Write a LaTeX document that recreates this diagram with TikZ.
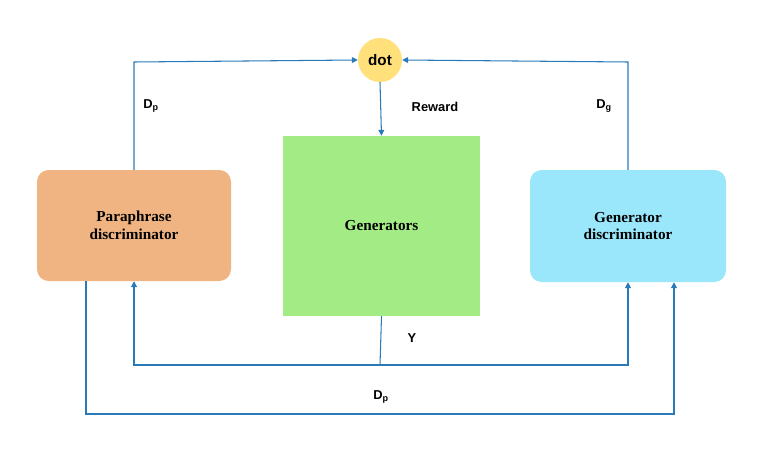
\documentclass[tikz,border=0pt]{standalone}
\usepackage{fontspec}
\setmainfont{Liberation Serif}
\setsansfont{Liberation Sans}
\usetikzlibrary{arrows.meta}
\definecolor{ln}{HTML}{2A7AB8}
\definecolor{gn}{HTML}{A3EB85}
\definecolor{og}{HTML}{F0B482}
\definecolor{cy}{HTML}{9AE6FB}
\definecolor{yl}{HTML}{FFE07A}
\begin{document}
\begin{tikzpicture}[x=0.03cm,y=-0.03cm,
  conn/.style={draw=ln,line width=0.9pt},
  arr/.style={conn,-{Triangle[length=5pt,width=5pt]}},
  box/.style={draw=none,font=\rmfamily\bfseries\fontsize{13}{15}\selectfont,align=center,inner sep=0pt},
  lab/.style={font=\sffamily\bfseries\fontsize{11}{13}\selectfont}]
\useasboundingbox (0,0) rectangle (763,454);
\node[box,fill=gn,minimum width=197*0.03cm,minimum height=180*0.03cm] (gen) at (381.5,226) {Generators};
\node[box,fill=og,rounded corners=10pt,minimum width=194*0.03cm,minimum height=111*0.03cm] (para) at (134,225.5) {Paraphrase\\discriminator};
\node[box,fill=cy,rounded corners=10pt,minimum width=196*0.03cm,minimum height=112*0.03cm] (gd) at (628,226) {Generator\\discriminator};
\node[circle,fill=yl,minimum size=44*0.03cm,inner sep=0pt,font=\sffamily\bfseries\fontsize{13}{15}\selectfont] (dot) at (380,60) {dot};
\coordinate (c1) at (134,62);
\coordinate (c2) at (628,62);
\coordinate (yb) at (380,365);
\coordinate (yl) at (134,365);
\coordinate (yr) at (628,365);
\coordinate (b1) at (86,414);
\coordinate (b2) at (674,414);
\draw[arr] (para.north) -- (c1) -- (dot.west);
\draw[arr] (gd.north) -- (c2) -- (dot.east);
\draw[arr] (dot.south) -- (gen.north);
\draw[conn] (gen.south) -- (yb);
\draw[arr] (yb) -- (yl) -- (para.south);
\draw[arr] (yb) -- (yr) -- (gd.south);
\draw[arr] (para.south -| b1) -- (b1) -- (b2) -- (gd.south -| b2);
\node[lab] (l1) at (151,106) {D\textsubscript{p}};
\node[lab] (l2) at (604,106) {D\textsubscript{g}};
\node[lab] (l3) at (435,107) {Reward};
\node[lab] (l4) at (412,338) {Y};
\node[lab] (l5) at (381,397) {D\textsubscript{p}};
\end{tikzpicture}
\end{document}
